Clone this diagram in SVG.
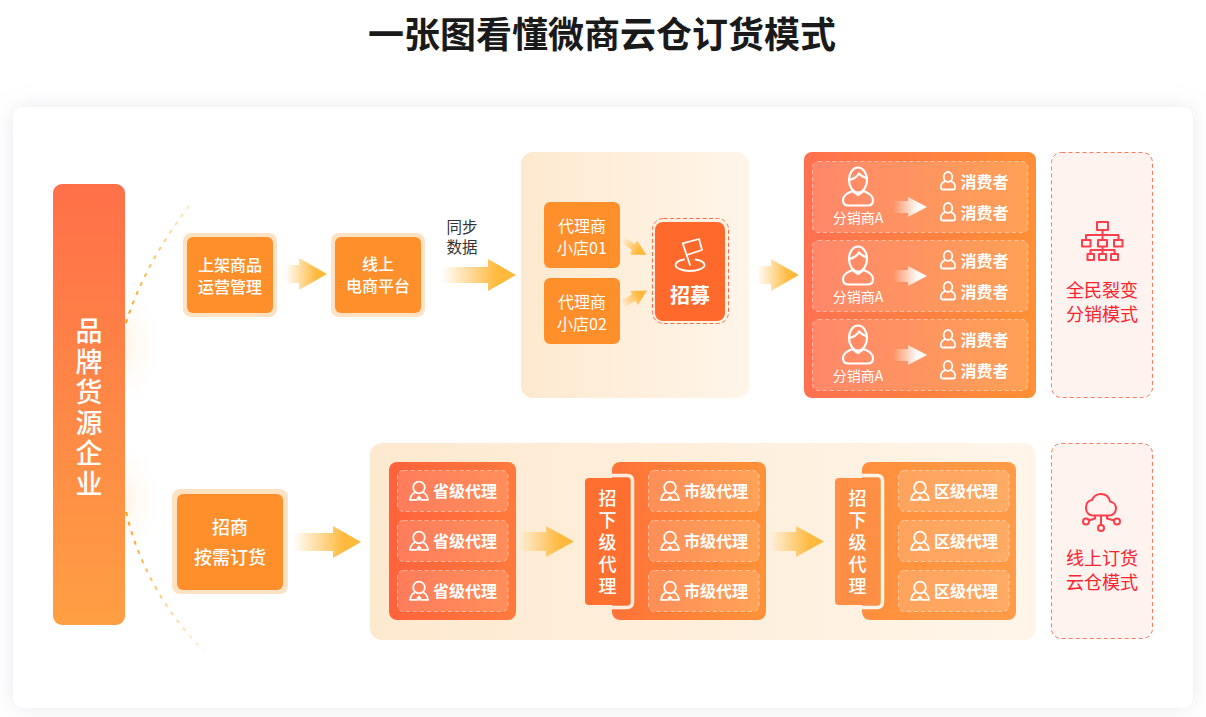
<svg xmlns="http://www.w3.org/2000/svg" width="1206" height="717" viewBox="0 0 1206 717">
<style>
text{font-family:"Noto Sans CJK SC","Noto Sans",sans-serif;text-anchor:middle;fill:#fff;dominant-baseline:central;transform:translateY(-2.5px)}
.t16{font-size:16px;font-weight:700}.m{font-weight:500}
.row{fill:#fff;fill-opacity:.16;stroke:#fff;stroke-opacity:.45;stroke-dasharray:4 3}
.ic{fill:none;stroke:#fff;stroke-width:1.800;stroke-linecap:round;stroke-linejoin:round}
.ic2{fill:none;stroke:#fff;stroke-width:2.200;stroke-linecap:round;stroke-linejoin:round}
.rd{fill:none;stroke:#fb3f4c;stroke-width:2;stroke-linecap:round;stroke-linejoin:round}
.box{fill:#fff3ef;stroke:#ff7a5a;stroke-dasharray:4 3}
.red{fill:#f9242e;font-size:18px}
.or{fill:#ff8f2b}.halo{fill:#ffe2c4}
</style>
<defs>
<linearGradient id="ga" x1="0" x2="1" y1="0" y2="0"><stop offset="0" stop-color="#ffb93d" stop-opacity="0"/><stop offset=".75" stop-color="#ffb93d"/></linearGradient>
<linearGradient id="gw" x1="0" x2="1" y1="0" y2="0"><stop offset="0" stop-color="#fff" stop-opacity="0"/><stop offset=".7" stop-color="#fff" stop-opacity=".95"/></linearGradient>
<linearGradient id="gs" gradientUnits="userSpaceOnUse" x1="622" y1="240" x2="646" y2="254"><stop offset="0" stop-color="#ffb93d" stop-opacity="0"/><stop offset=".7" stop-color="#ffb93d"/></linearGradient>
<linearGradient id="gs2" gradientUnits="userSpaceOnUse" x1="622" y1="305" x2="646" y2="291"><stop offset="0" stop-color="#ffb93d" stop-opacity="0"/><stop offset=".7" stop-color="#ffb93d"/></linearGradient>
<linearGradient id="gbar" x1="0" x2="0" y1="0" y2="1"><stop offset="0" stop-color="#ff7049"/><stop offset="1" stop-color="#ff9f43"/></linearGradient>
<linearGradient id="gpan" x1="0" x2="1" y1="0" y2="0"><stop offset="0" stop-color="#fde9cf"/><stop offset="1" stop-color="#fff5e9"/></linearGradient>
<linearGradient id="gd" x1="0" x2="1" y1="0" y2="0"><stop offset="0" stop-color="#ff7050"/><stop offset="1" stop-color="#ff9035"/></linearGradient>
<linearGradient id="g1" x1="0" x2="1" y1="0" y2="0"><stop offset="0" stop-color="#ff623c"/><stop offset="1" stop-color="#ff7a3c"/></linearGradient>
<linearGradient id="g2" x1="0" x2="1" y1="0" y2="0"><stop offset="0" stop-color="#ff7238"/><stop offset="1" stop-color="#ff9238"/></linearGradient>
<linearGradient id="g3" x1="0" x2="1" y1="0" y2="0"><stop offset="0" stop-color="#ff8f3c"/><stop offset="1" stop-color="#ff9c48"/></linearGradient>
<linearGradient id="garc1" gradientUnits="userSpaceOnUse" x1="126" y1="323" x2="193" y2="201"><stop offset="0" stop-color="#ff9f10"/><stop offset="1" stop-color="#ff9f10" stop-opacity=".2"/></linearGradient>
<linearGradient id="garc2" gradientUnits="userSpaceOnUse" x1="126" y1="512" x2="204" y2="651"><stop offset="0" stop-color="#ff9f10"/><stop offset="1" stop-color="#ff9f10" stop-opacity=".15"/></linearGradient>
<radialGradient id="gl1" gradientUnits="userSpaceOnUse" cx="0" cy="0" r="1" gradientTransform="translate(120 345) scale(45 70)"><stop offset="0" stop-color="#ffe8cc" stop-opacity=".55"/><stop offset="1" stop-color="#fff" stop-opacity="0"/></radialGradient>
<radialGradient id="gl2" gradientUnits="userSpaceOnUse" cx="0" cy="0" r="1" gradientTransform="translate(120 500) scale(45 70)"><stop offset="0" stop-color="#ffe8cc" stop-opacity=".55"/><stop offset="1" stop-color="#fff" stop-opacity="0"/></radialGradient>
<filter id="sh" x="-5%" y="-10%" width="110%" height="120%"><feDropShadow dx="0" dy="0" stdDeviation="10" flood-color="#b8b0c0" flood-opacity=".3"/></filter>
<g id="user"><ellipse class="ic" cx="0" cy="-4" rx="4.300" ry="5"/><path class="ic" d="M-3 .2C-6 1.500-7.200 4-7.200 6.300c0 1.400.8 2.200 2 2.200h10.400c1.200 0 2-.8 2-2.200C7.200 4 6 1.500 3 .2"/></g>
<g id="agent"><circle class="ic" cx="0" cy="-3.500" r="5.800"/><path class="ic" d="M-3.800 1.200C-7 2.600-8.500 5.500-9 8.800H-2M3.800 1.200C7 2.600 8.500 5.500 9 8.800H2"/><path class="ic" d="M0 5.500V8.800M-1.500 7H1.500"/></g>
<g id="big"><ellipse class="ic2" cx="0" cy="-10" rx="9" ry="12.500"/><path class="ic2" d="M-8.800-10C-4-11-1-13 1-16.500 3-14 6-12.500 8.800-11.500M-5.500 1C-11 3-15 6-15 10c0 4 2.500 5.500 5 5.500H10c2.500 0 5-1.500 5-5.500 0-4-4-7-9.500-9L0 5z"/></g>
<path id="arrW" fill="url(#gw)" d="M0-6H15V-10L34 0 15 10V6H0z"/>
</defs>
<rect width="1206" height="717" fill="#fff"/>
<rect x="13" y="107" width="1180" height="601" rx="10" fill="#fff" filter="url(#sh)"/>
<text id="title" x="602" y="34" style="font-size:36px;fill:#1a1a1a;font-weight:700">一张图看懂微商云仓订货模式</text>
<rect id="glow1" x="125" y="275" width="45" height="140" fill="url(#gl1)"/>
<rect id="glow2" x="125" y="430" width="45" height="140" fill="url(#gl2)"/>
<g id="source"><rect x="53" y="184" width="72" height="441" rx="9" fill="url(#gbar)"/>
<text class="m" style="font-size:27px"><tspan x="89" y="331.500">品</tspan><tspan x="89" y="362">牌</tspan><tspan x="89" y="392.500">货</tspan><tspan x="89" y="423">源</tspan><tspan x="89" y="453.500">企</tspan><tspan x="89" y="484">业</tspan></text></g>
<g id="n-listing"><rect class="halo" x="183" y="233" width="94" height="84" rx="8"/><rect class="or" x="187" y="237" width="86" height="76" rx="6"/><text x="230" y="266" class="m" font-size="16">上架商品</text><text x="230" y="288" class="m" font-size="16">运营管理</text></g>
<g id="n-online"><rect class="halo" x="331" y="233" width="94" height="84" rx="8"/><rect class="or" x="335" y="237" width="86" height="76" rx="6"/><text x="378" y="265.500" class="m" font-size="16">线上</text><text x="378" y="287.500" class="m" font-size="16">电商平台</text></g>
<g id="l-sync" font-size="15.500"><text x="462" y="228" style="fill:#333">同步</text><text x="462" y="248" style="fill:#333">数据</text></g>
<g id="n-panel1"><rect x="521" y="152" width="228" height="246" rx="12" fill="url(#gpan)"/></g>
<g id="n-shop1"><rect class="or" x="544" y="202" width="76" height="66" rx="6"/><text x="582" y="227" font-size="16">代理商</text><text x="582" y="249" font-size="16">小店01</text></g>
<g id="n-shop2"><rect class="or" x="544" y="278" width="76" height="66" rx="6"/><text x="582" y="303" font-size="16">代理商</text><text x="582" y="325" font-size="16">小店02</text></g>
<g id="n-recruit"><rect x="652.500" y="218.500" width="76" height="105" rx="11" fill="none" stroke="#ff6a4a" stroke-dasharray="4 2.500"/><rect x="655" y="222" width="70" height="99" rx="8" fill="#ff692b"/>
<path class="ic" d="M690 265 682.700 243.300 699 239 702 250 686.700 255M684 259.500C679 260.500 675.500 262.500 675.500 265c0 3 6.500 6 14.500 6s14.500-3 14.500-6c0-2.500-3.500-4.500-9-5.500"/>
<text x="690" y="297" style="font-weight:700" font-size="20">招募</text></g>
<g id="n-dist"><rect x="804" y="152" width="232" height="246" rx="8" fill="url(#gd)"/></g>
<g id="n-row1"><rect class="row" x="812.500" y="161.500" width="215.500" height="71" rx="6"/><use href="#big" x="858" y="190"/><text x="858" y="219.500" font-size="14">分销商A</text><use href="#arrW" x="893" y="207"/><use href="#user" x="948" y="181"/><text x="984.500" y="183" class="t16">消费者</text><use href="#user" x="948" y="212"/><text x="984.500" y="214" class="t16">消费者</text></g>
<g id="n-row2"><rect class="row" x="812.500" y="240.500" width="215.500" height="71" rx="6"/><use href="#big" x="858" y="269"/><text x="858" y="298.500" font-size="14">分销商A</text><use href="#arrW" x="893" y="276"/><use href="#user" x="948" y="260"/><text x="984.500" y="262" class="t16">消费者</text><use href="#user" x="948" y="291"/><text x="984.500" y="293" class="t16">消费者</text></g>
<g id="n-row3"><rect class="row" x="812.500" y="319.500" width="215.500" height="71" rx="6"/><use href="#big" x="858" y="348"/><text x="858" y="377.500" font-size="14">分销商A</text><use href="#arrW" x="893" y="355"/><use href="#user" x="948" y="339"/><text x="984.500" y="341" class="t16">消费者</text><use href="#user" x="948" y="370"/><text x="984.500" y="372" class="t16">消费者</text></g>
<g id="n-mode1"><rect class="box" x="1051.500" y="152.500" width="101" height="245" rx="10"/>
<path class="rd" d="M1097 222h11v8h-11zM1102.500 230v10M1086 240v-5h32.500v5M1082 240h8.500v6.500h-8.500zM1098 240h9v6.500h-9zM1114 240h8.500v6.500h-8.500zM1102.500 246.500v7.500M1090.500 254v-4h24v4M1087.500 254h6.500v6h-6.500zM1099 254h7v6h-7zM1111 254h7v6h-7z"/>
<text x="1102" y="291" class="red">全民裂变</text><text x="1102" y="315" class="red">分销模式</text></g>
<g id="n-order"><rect class="halo" x="172" y="489" width="116" height="105" rx="8"/><rect class="or" x="177" y="494" width="106" height="96" rx="6"/><text x="230" y="528.500" class="m" font-size="18">招商</text><text x="230" y="558.500" class="m" font-size="18">按需订货</text></g>
<g id="n-panel2"><rect x="370" y="443" width="666" height="197" rx="12" fill="url(#gpan)"/></g>
<g id="n-province"><rect x="389" y="462" width="127" height="158" rx="8" fill="url(#g1)"/>
<rect class="row" x="397.500" y="470.500" width="110.500" height="41" rx="6"/><use href="#agent" x="419" y="491"/><text x="465" y="492.500" class="t16">省级代理</text>
<rect class="row" x="397.500" y="520.500" width="110.500" height="41" rx="6"/><use href="#agent" x="419" y="541"/><text x="465" y="542.500" class="t16">省级代理</text>
<rect class="row" x="397.500" y="570.500" width="110.500" height="41" rx="6"/><use href="#agent" x="419" y="591"/><text x="465" y="592.500" class="t16">省级代理</text></g>
<g id="n-city"><rect x="612" y="462" width="154" height="158" rx="8" fill="url(#g2)"/>
<rect class="row" x="648.500" y="470.500" width="110.500" height="41" rx="6"/><use href="#agent" x="670" y="491"/><text x="716" y="492.500" class="t16">市级代理</text>
<rect class="row" x="648.500" y="520.500" width="110.500" height="41" rx="6"/><use href="#agent" x="670" y="541"/><text x="716" y="542.500" class="t16">市级代理</text>
<rect class="row" x="648.500" y="570.500" width="110.500" height="41" rx="6"/><use href="#agent" x="670" y="591"/><text x="716" y="592.500" class="t16">市级代理</text>
<path d="M612 475.500H627Q632.500 475.500 632.500 481V602Q632.500 607.500 627 607.500H612" fill="none" stroke="#ffeedd" stroke-width="3.500"/>
<rect x="585" y="478" width="45" height="127" rx="4" fill="#ff7030"/>
<text class="m" font-size="18"><tspan x="607.500" y="499">招</tspan><tspan x="607.500" y="521">下</tspan><tspan x="607.500" y="543">级</tspan><tspan x="607.500" y="565">代</tspan><tspan x="607.500" y="587.500">理</tspan></text></g>
<g id="n-district"><rect x="862" y="462" width="154" height="158" rx="8" fill="url(#g3)"/>
<rect class="row" x="898.500" y="470.500" width="110.500" height="41" rx="6"/><use href="#agent" x="920" y="491"/><text x="966" y="492.500" class="t16">区级代理</text>
<rect class="row" x="898.500" y="520.500" width="110.500" height="41" rx="6"/><use href="#agent" x="920" y="541"/><text x="966" y="542.500" class="t16">区级代理</text>
<rect class="row" x="898.500" y="570.500" width="110.500" height="41" rx="6"/><use href="#agent" x="920" y="591"/><text x="966" y="592.500" class="t16">区级代理</text>
<path d="M862 475.500H877Q882.500 475.500 882.500 481V602Q882.500 607.500 877 607.500H862" fill="none" stroke="#fff5ea" stroke-width="3.500"/>
<rect x="835" y="478" width="45" height="127" rx="4" fill="#ff8f45"/>
<text class="m" font-size="18"><tspan x="857.500" y="499">招</tspan><tspan x="857.500" y="521">下</tspan><tspan x="857.500" y="543">级</tspan><tspan x="857.500" y="565">代</tspan><tspan x="857.500" y="587.500">理</tspan></text></g>
<g id="n-mode2"><rect class="box" x="1051.500" y="443.500" width="101" height="195" rx="10"/>
<path class="rd" d="M1093 515.500H1109C1113 515.500 1116 512.500 1116 508.500 1116 505 1113.500 502 1110 501.500 1109 497 1105.500 494 1101 494 1097 494 1093.500 496.500 1092 500 1088 500.500 1086 504 1086 508 1086 512.500 1089 515.500 1093 515.500zM1101 515.500V525M1095 515.500V518.500L1088.800 520.500M1107 515.500V518.500L1114.200 520.500"/>
<circle class="rd" cx="1101" cy="528" r="3"/><circle class="rd" cx="1086" cy="521.500" r="3"/><circle class="rd" cx="1117" cy="521.500" r="3"/>
<text x="1102" y="559.500" class="red">线上订货</text><text x="1102" y="583.500" class="red">云仓模式</text></g>
<g id="connectors">
<path d="M126 323Q145 262 193 201" fill="none" stroke="url(#garc1)" stroke-width="2" stroke-dasharray="4 6"/>
<path d="M126 512Q145.500 592.500 204 651" fill="none" stroke="url(#garc2)" stroke-width="2" stroke-dasharray="4 6"/>
<path fill="url(#ga)" d="M285 265H299V258L327 274 299 290V283H285z"/>
<path fill="url(#ga)" d="M441 267H488V259L516 275 488 291V283H441z"/>
<path fill="url(#ga)" d="M757 266H771V259L799 275 771 291V284H757z"/>
<path fill="url(#ga)" d="M293 533H333V526L361 542 333 558V551H293z"/>
<path fill="url(#ga)" d="M520 532H546V526L574 541.500 546 557V551H520z"/>
<path fill="url(#ga)" d="M770 532H796V526L824 541.500 796 557V551H770z"/>
<path fill="url(#gs)" d="M624 237.500 635 244 637 240.500 646.500 255 630 254.500 632 250 622 243z"/>
<path fill="url(#gs2)" d="M622 300 632 294.500 630.500 291 647 290.500 638 305 635.500 301 625 307z"/>
</g>
</svg>
